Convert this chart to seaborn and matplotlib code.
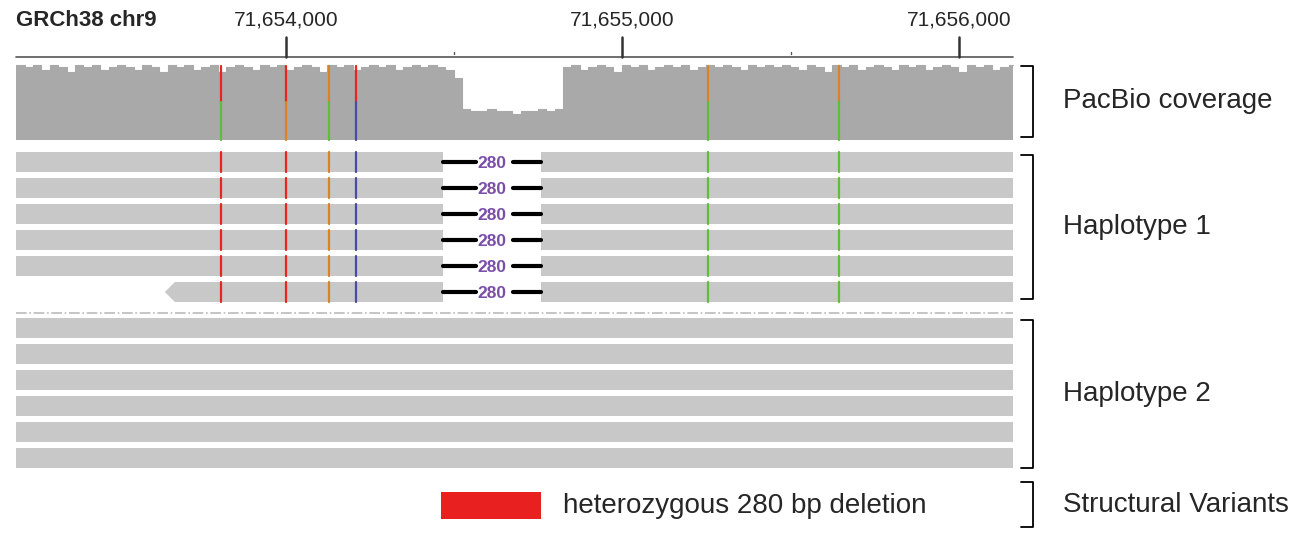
import matplotlib.pyplot as plt
import seaborn as sns
import numpy as np

sns.set_style("white")
plt.rcParams['font.family'] = ['Liberation Sans', 'DejaVu Sans']

# genome window and ticks
chrom_label = "GRCh38 chr9"
view_start, view_end = 71653198, 71656160
major_ticks = [71654000, 71655000, 71656000]
minor_ticks = [71654500, 71655500]

# coverage (depth per 25 bp bin, starting at view_start)
cov_bin = 25
coverage = [29, 28, 29, 27, 29, 28, 26, 29, 28, 29, 27, 28, 29, 28, 27,
            29, 28, 26, 29, 28, 29, 27, 28, 29, 26, 28, 29, 28, 27, 29,
            28, 29, 27, 28, 29, 28, 26, 29, 28, 29, 27, 28, 29, 28, 29,
            27, 28, 29, 28, 29, 28, 27, 24, 12, 11, 11, 12, 11, 11, 10,
            11, 11, 12, 11, 12, 28, 29, 27, 28, 29, 28, 26, 29, 28, 29,
            27, 28, 29, 28, 29, 27, 28, 29, 28, 29, 28, 27, 29, 28, 29,
            28, 29, 28, 27, 29, 28, 26, 29, 28, 29, 27, 28, 29, 28, 27,
            29, 28, 29, 27, 28, 29, 28, 26, 29, 28, 29, 27, 28, 29]
cov_max = 30

# variants: position, top colour in coverage, bottom colour, colour in reads
var_pos = [71653807, 71654000, 71654128, 71654208, 71655254, 71655643]
var_top = ["#e8251f", "#e8251f", "#d98326", "#e8251f", "#d98326", "#d98326"]
var_bot = ["#5bbf3a", "#d98326", "#5bbf3a", "#4a4aa8", "#5bbf3a", "#5bbf3a"]
var_read = ["#e8251f", "#e8251f", "#d98326", "#4a4aa8", "#5bbf3a", "#5bbf3a"]
hap1_vars = [0, 1, 2, 3, 4, 5]

# deletion
del_start, del_end = 71654467, 71654758
del_label = "280"

# reads
hap1_rows = [162, 188, 214, 240, 266, 292]
hap1_starts = [view_start, view_start, view_start, view_start, view_start, 71653670]
hap2_rows = [328, 354, 380, 406, 432, 458]
read_h = 20

track_labels = ["PacBio coverage", "Haplotype 1", "Haplotype 2", "Structural Variants"]
bracket_spans = [(66, 137), (155, 299), (320, 468), (482, 527)]
legend_text = "heterozygous 280 bp deletion"

px_per_bp = 0.3365
x0 = 71654000 - 286 / px_per_bp
x1 = 71654000 + (1301 - 286) / px_per_bp
bp = lambda px: 71654000 + (px - 286) / px_per_bp

fig = plt.figure(figsize=(13.01, 5.48), dpi=100)
ax = fig.add_axes([0, 0, 1, 1])
ax.set_xlim(x0, x1)
ax.set_ylim(548, 0)
ax.axis("off")

grey_read = "#c8c8c8"
grey_cov = "#a9a9a9"

# ruler
ax.plot([view_start, view_end], [57, 57], color="#555555", lw=1.2)
for t in major_ticks:
    ax.plot([t, t], [37, 57], color="#333333", lw=1.8)
    ax.text(t, 20, f"{t:,}", ha="center", va="center", fontsize=15)
for t in minor_ticks:
    ax.plot([t, t], [52, 54], color="#555555", lw=1)
ax.text(bp(16), 20, chrom_label, ha="left", va="center", fontsize=16, fontweight="bold")

# coverage track
cx = [view_start + i * cov_bin for i in range(len(coverage))] + [view_end]
cy = [140 - c / cov_max * 78 for c in coverage] + [140 - coverage[-1] / cov_max * 78]
ax.fill_between(cx, cy, 140, step="post", color=grey_cov, lw=0)
sns.lineplot(x=cx, y=cy, drawstyle="steps-post", color=grey_cov, lw=0.8, ax=ax)
for p, ct, cb in zip(var_pos, var_top, var_bot):
    ax.plot([p, p], [66, 102], color=ct, lw=1.6)
    ax.plot([p, p], [102, 140], color=cb, lw=1.6)

# haplotype 1 reads with deletion
mid = (del_start + del_end) / 2
for y, s in zip(hap1_rows, hap1_starts):
    ax.fill_between([s, del_start], y - read_h / 2, y + read_h / 2, color=grey_read, lw=0)
    ax.fill_between([del_end, view_end], y - read_h / 2, y + read_h / 2, color=grey_read, lw=0)
    if s > view_start:
        ax.fill([s, s - 30, s], [y - read_h / 2, y, y + read_h / 2], color=grey_read, lw=0)
    ax.plot([del_start, bp(476)], [y, y], color="black", lw=3)
    ax.plot([bp(513), del_end], [y, y], color="black", lw=3)
    ax.text(mid, y + 1, del_label, ha="center", va="center", color="#7a4fa8",
            fontsize=12.5, fontweight="bold")
    for i in hap1_vars:
        ax.plot([var_pos[i], var_pos[i]], [y - read_h / 2, y + read_h / 2], color=var_read[i], lw=1.6)

# haplotype separator
ax.plot([view_start, view_end], [313, 313], color="#bbbbbb", lw=1.2, ls="-.")

# haplotype 2 reads
for y in hap2_rows:
    ax.fill_between([view_start, view_end], y - read_h / 2, y + read_h / 2, color=grey_read, lw=0)

# structural variant legend
ax.fill_between([bp(441), bp(541)], 492, 519, color="#e8201f", lw=0)
ax.text(bp(563), 506, legend_text, ha="left", va="center", fontsize=20)

# brackets and labels
for lab, (a, b) in zip(track_labels, bracket_spans):
    ax.plot([bp(1021), bp(1033), bp(1033), bp(1021)], [a, a, b, b], color="black", lw=1.3)
    ax.text(bp(1063), (a + b) / 2, lab, ha="left", va="center", fontsize=20)

fig.savefig("out.png", dpi=100)
